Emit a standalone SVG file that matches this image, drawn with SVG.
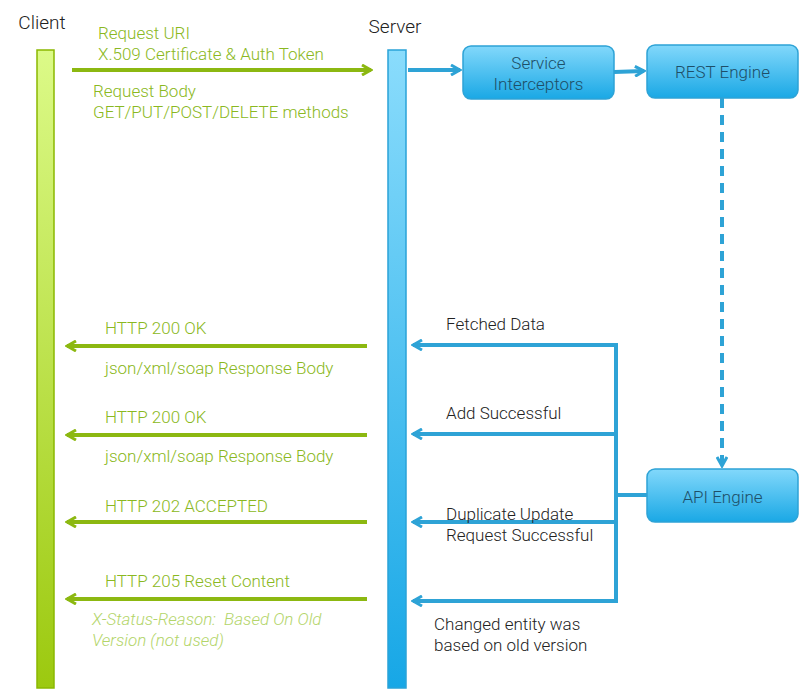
<svg xmlns="http://www.w3.org/2000/svg" width="800" height="690" viewBox="0 0 800 690">
<defs>
<linearGradient id="gg" x1="0" y1="0" x2="0" y2="1"><stop offset="0" stop-color="#dcfa88"/><stop offset="1" stop-color="#9cc90f"/></linearGradient>
<linearGradient id="bg" x1="0" y1="0" x2="0" y2="1"><stop offset="0" stop-color="#8adcfc"/><stop offset="1" stop-color="#17a7e6"/></linearGradient>
<linearGradient id="nb" x1="0" y1="0" x2="0" y2="1"><stop offset="0" stop-color="#82d8fb"/><stop offset="1" stop-color="#1aa8e5"/></linearGradient>
<marker id="ga" viewBox="0 0 12 12" refX="10" refY="6" markerWidth="12" markerHeight="12" markerUnits="userSpaceOnUse" orient="auto"><path d="M1,1 L10,6 L1,11" fill="none" stroke="#8cb811" stroke-width="3"/></marker>
<marker id="ba" viewBox="0 0 12 12" refX="10" refY="6" markerWidth="12" markerHeight="12" markerUnits="userSpaceOnUse" orient="auto"><path d="M1,1 L10,6 L1,11" fill="none" stroke="#2ea3d6" stroke-width="3"/></marker>
</defs>
<style>
text{font-family:Roboto,"Liberation Sans",sans-serif;font-weight:300;font-size:17px}
.g{fill:#8ab821}.gi{fill:#b3d56a;font-style:italic}.k{fill:#222}.t{fill:#1e4f68;text-anchor:middle}
.gl{stroke:#8cb811;stroke-width:4;fill:none;marker-end:url(#ga)}
.bl{stroke:#2ea3d6;stroke-width:4;fill:none}
.bla{stroke:#2ea3d6;stroke-width:4;fill:none;marker-end:url(#ba)}
.box{fill:url(#nb);stroke:#2ea3d6;stroke-width:1.5}
</style>
<g id="client"><rect x="37" y="50" width="17" height="638" fill="url(#gg)" stroke="#8ab800" stroke-width="1.5"/><text x="42" y="29" text-anchor="middle" class="k" font-size="19" style="font-size:19px">Client</text></g>
<g id="server"><rect x="388" y="50" width="18" height="638" fill="url(#bg)" stroke="#2aa3d8" stroke-width="1.5"/><text x="395" y="33" text-anchor="middle" class="k" style="font-size:19px">Server</text></g>
<g id="service-interceptors"><rect class="box" x="463" y="46" width="151" height="53" rx="8"/><text class="t" x="538.5" y="69">Service</text><text class="t" x="538.5" y="90">Interceptors</text></g>
<g id="rest-engine"><rect class="box" x="647" y="45" width="151" height="53" rx="8"/><text class="t" x="722.5" y="78">REST Engine</text></g>
<g id="api-engine"><rect class="box" x="647" y="469" width="151" height="53" rx="8"/><text class="t" x="722.5" y="503">API Engine</text></g>
<g id="connectors">
<line class="gl" x1="72" y1="70" x2="371" y2="70"/>
<line class="bla" x1="408" y1="70" x2="460" y2="70"/>
<line class="bla" x1="614" y1="72" x2="644" y2="71"/>
<line class="bla" x1="722" y1="98" x2="722" y2="466" stroke-dasharray="10,7"/>
<polyline class="bl" points="616,345 616,601"/>
<line class="bl" x1="614" y1="495" x2="647" y2="495"/>
<line class="bla" x1="618" y1="345" x2="413" y2="345"/>
<line class="bla" x1="618" y1="434" x2="413" y2="434"/>
<line class="bla" x1="618" y1="522" x2="413" y2="522"/>
<line class="bla" x1="618" y1="601" x2="413" y2="601"/>
<line class="gl" x1="367" y1="346" x2="67" y2="346"/>
<line class="gl" x1="367" y1="435" x2="67" y2="435"/>
<line class="gl" x1="367" y1="522" x2="67" y2="522"/>
<line class="gl" x1="367" y1="599" x2="67" y2="599"/>
</g>
<g id="labels">
<text class="g" x="98" y="39">Request URI</text>
<text class="g" x="98" y="60">X.509 Certificate &amp; Auth Token</text>
<text class="g" x="93" y="97">Request Body</text>
<text class="g" x="93" y="118">GET/PUT/POST/DELETE methods</text>
<text class="g" x="105" y="334">HTTP 200 OK</text>
<text class="g" x="105" y="374">json/xml/soap Response Body</text>
<text class="g" x="105" y="423">HTTP 200 OK</text>
<text class="g" x="105" y="462">json/xml/soap Response Body</text>
<text class="g" x="105" y="512">HTTP 202 ACCEPTED</text>
<text class="g" x="105" y="587">HTTP 205 Reset Content</text>
<text class="gi" x="92" y="625" xml:space="preserve">X-Status-Reason:  Based On Old</text>
<text class="gi" x="92" y="646">Version (not used)</text>
<text class="k" x="446" y="330">Fetched Data</text>
<text class="k" x="446" y="419">Add Successful</text>
<text class="k" x="446" y="520">Duplicate Update</text>
<text class="k" x="446" y="541">Request Successful</text>
<text class="k" x="434" y="630">Changed entity was</text>
<text class="k" x="434" y="651">based on old version</text>
</g>
</svg>
